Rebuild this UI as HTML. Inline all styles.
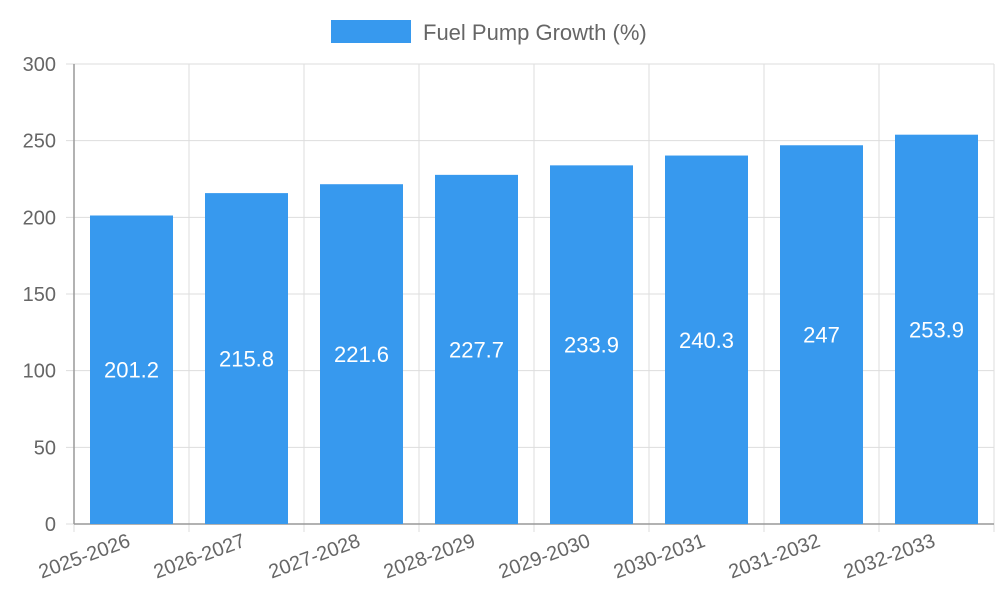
<!DOCTYPE html>
<html><head><meta charset="utf-8"><style>
body{margin:0;background:#fff;font-family:"Liberation Sans",sans-serif}
</style></head><body>
<svg width="1000" height="600" id="c" xmlns="http://www.w3.org/2000/svg">
<g>
<rect x="331" y="20" width="80" height="23" fill="#3799ee"/>
<text x="423" y="40" font-size="22" fill="#666" font-family="Liberation Sans, sans-serif">Fuel Pump Growth (%)</text>
</g>
<g id="grid"></g><g id="bars"></g><g id="labels"></g>
</svg>
<script>
const categories=["2025-2026","2026-2027","2027-2028","2028-2029","2029-2030","2030-2031","2031-2032","2032-2033"];
const values=[201.2,215.8,221.6,227.7,233.9,240.3,247,253.9];
const yTicks=[0,50,100,150,200,250,300];
const NS="http://www.w3.org/2000/svg";
const L=74,R=994,T=64,B=524,yMax=300;
const y=v=>B-(v/yMax)*(B-T);
const bw=(R-L)/categories.length;
const x=i=>L+i*bw;
function mk(tag,a,p){const e=document.createElementNS(NS,tag);for(const k in a)e.setAttribute(k,a[k]);p.appendChild(e);return e;}
const grid=document.getElementById('grid'),bars=document.getElementById('bars'),labels=document.getElementById('labels');
yTicks.forEach(t=>{
 const ln=mk('line',{x1:L-8,x2:R,y1:y(t),y2:y(t),stroke:'#ddd','stroke-width':1},grid);
 
 
 const tx=mk('text',{x:L-18,y:y(t)+7,'text-anchor':'end','font-size':20,fill:'#666'},grid);
 tx.textContent=t;
 
 
});
for(let i=0;i<=categories.length;i++){
 const ln=mk('line',{x1:x(i),x2:x(i),y1:T,y2:B+8,stroke:'#ddd','stroke-width':1},grid);
 
 
}
const ax=mk('line',{x1:L,x2:L,y1:T,y2:B,stroke:'#999','stroke-width':1.5},grid);


const bx=mk('line',{x1:L,x2:R,y1:B,y2:B,stroke:'#999','stroke-width':1.5},grid);


categories.forEach((c,i)=>{
 const v=values[i];
 const r=mk('rect',{x:x(i)+16,y:y(v),width:bw-32,height:B-y(v),fill:'#3799ee'},bars);
 
 
 const cx=x(i)+bw/2;
 const vl=mk('text',{x:cx,y:(y(v)+B)/2+8,'text-anchor':'middle','font-size':22,fill:'#fff'},labels);
 vl.textContent=v;
 
 
 const tl=mk('text',{x:cx,y:B+22,'text-anchor':'end','font-size':20,fill:'#666',transform:`rotate(-20 ${cx} ${B+22})`},labels);
 tl.textContent=c;
 
 
});
</script>
</body></html>
